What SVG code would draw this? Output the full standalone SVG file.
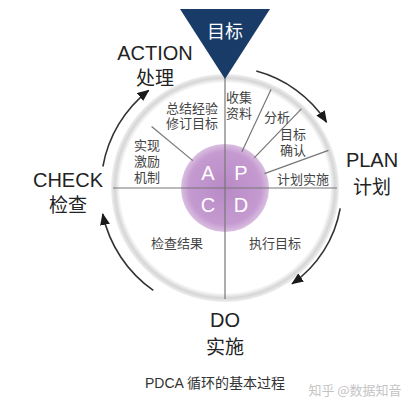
<svg xmlns="http://www.w3.org/2000/svg" width="415" height="414" viewBox="0 0 415 414">
<defs>
<radialGradient id="ring" cx="225" cy="188" r="114" gradientUnits="userSpaceOnUse">
<stop offset="0" stop-color="#ffffff"/>
<stop offset="0.92" stop-color="#ffffff"/>
<stop offset="0.965" stop-color="#d6d6d6"/>
<stop offset="1" stop-color="#efefef"/>
</radialGradient>
<radialGradient id="purple" cx="225" cy="188" r="45" gradientUnits="userSpaceOnUse">
<stop offset="0" stop-color="#b98ac6"/>
<stop offset="0.8" stop-color="#c49ad0"/>
<stop offset="1" stop-color="#ddc3e3"/>
</radialGradient>
<marker id="ah" viewBox="0 0 12 10" refX="11" refY="5" markerWidth="12" markerHeight="10" markerUnits="userSpaceOnUse" orient="auto">
<path d="M0,0 L12,5 L0,10 Z" fill="#1a1a1a"/>
</marker>
<style>
.div{stroke:#777;stroke-width:1.2;fill:none}
.arc{stroke:#333;stroke-width:1.6;fill:none;marker-end:url(#ah)}
.in{font-family:"Noto Sans CJK SC","Liberation Sans",sans-serif;font-size:13px;fill:#444;text-anchor:middle}
.big{font-family:"Liberation Sans","Noto Sans CJK SC",sans-serif;font-size:20px;fill:#222;text-anchor:middle}
.bigc{font-family:"Noto Sans CJK SC",sans-serif;font-size:19px;fill:#222;text-anchor:middle}
.let{font-family:"Liberation Sans",sans-serif;font-size:20px;fill:#ffffff;text-anchor:middle}
</style>
</defs>
<rect width="415" height="414" fill="#ffffff"/>
<g id="wheel">
<circle cx="225" cy="188" r="114" fill="url(#ring)"/>
<circle cx="225" cy="188" r="44" fill="url(#purple)"/>
</g>
<g id="connectors">
<line class="div" x1="225" y1="78" x2="225" y2="299"/>
<line class="div" x1="113" y1="188" x2="337" y2="188"/>
<line class="div" x1="241.9" y1="151.7" x2="271.1" y2="89.2"/>
<line class="div" x1="254.2" y1="157.8" x2="301.4" y2="108.9"/>
<line class="div" x1="264.5" y1="173.6" x2="328.4" y2="150.4"/>
<line class="div" x1="192.8" y1="160.6" x2="151.6" y2="126.5"/>
<path class="arc" d="M256.3,71.1 A121,121 0 0 1 326.5,122.1"/>
<path class="arc" d="M340.2,208.3 A117,117 0 0 1 292.1,283.8"/>
<path class="arc" d="M153.3,290.4 A125,125 0 0 1 102.7,214"/>
<path class="arc" d="M102.9,166.5 A124,124 0 0 1 148.7,90.3"/>
</g>
<g id="target">
<polygon points="180,9 270,9 225,79" fill="#183b68"/>
<text x="225" y="38" font-family="Noto Sans CJK SC,sans-serif" font-size="18" fill="#ffffff" text-anchor="middle">目标</text>
</g>
<g id="core">
<text class="let" x="208" y="180">A</text>
<text class="let" x="241" y="180">P</text>
<text class="let" x="208" y="212">C</text>
<text class="let" x="241" y="212">D</text>
</g>
<g id="plan-items">
<text class="in" x="239" y="102">收集</text>
<text class="in" x="239" y="118">资料</text>
<text class="in" x="277" y="122">分析</text>
<text class="in" x="293" y="139">目标</text>
<text class="in" x="293" y="155">确认</text>
<text class="in" x="303" y="184">计划实施</text>
</g>
<g id="action-items">
<text class="in" x="192" y="113">总结经验</text>
<text class="in" x="192" y="128">修订目标</text>
<text class="in" x="147" y="150">实现</text>
<text class="in" x="147" y="166">激励</text>
<text class="in" x="147" y="182">机制</text>
</g>
<g id="check-items">
<text class="in" x="177" y="248">检查结果</text>
</g>
<g id="do-items">
<text class="in" x="275" y="248">执行目标</text>
</g>
<g id="action">
<text class="big" x="155" y="60">ACTION</text>
<text class="bigc" x="155" y="85">处理</text>
</g>
<g id="plan">
<text class="big" x="372" y="167">PLAN</text>
<text class="bigc" x="372" y="194">计划</text>
</g>
<g id="check">
<text class="big" x="68" y="187">CHECK</text>
<text class="bigc" x="68" y="212">检查</text>
</g>
<g id="do">
<text class="big" x="225" y="327">DO</text>
<text class="bigc" x="225" y="354">实施</text>
</g>
<g id="caption">
<text x="215" y="388" font-family="Liberation Sans,Noto Sans CJK SC,sans-serif" font-size="14" fill="#333" text-anchor="middle">PDCA 循环的基本过程</text>
<text x="355" y="395" font-family="Noto Sans CJK SC,sans-serif" font-size="13" fill="#c4c4c4" text-anchor="middle">知乎 @数据知音</text>
</g>
</svg>
